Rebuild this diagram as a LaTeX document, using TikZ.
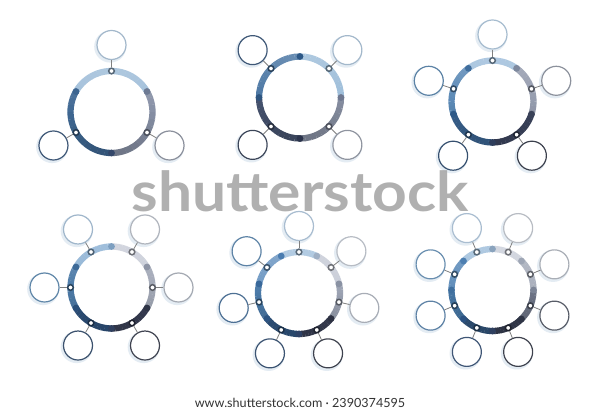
\documentclass[tikz,border=0pt]{standalone}
\usepackage{fontspec}
\newfontfamily\wmfont{Lato}
\usetikzlibrary{calc}
\definecolor{shadowc}{HTML}{E4ECF3}
\tikzset{
  ringseg/.style={line width=6.3pt},
  darkdot/.style={circle, inner sep=0pt, minimum size=6.8pt},
  whitedot/.style={circle, fill=white, inner sep=0pt, minimum size=5.6pt, line width=1.5pt},
  outercirc/.style={circle, inner sep=0pt, minimum size=29pt, line width=1.2pt, fill=white},
  link/.style={draw=black!50, line width=0.8pt},
  wmark/.style={text=black!36, opacity=0.85, font=\wmfont\bfseries\fontsize{55}{55}\selectfont},
  credit/.style={text=black!80, font=\wmfont\fontsize{12.6}{12.6}\selectfont}
}
% #1 name, #2 cx, #3 cy, #4 N, #5 list angle/segcolor/dotcolor/circlecolor
\newcommand{\ringdiag}[5]{%
  \begin{scope}[shift={(#2,#3)}]
    \foreach \a/\sc/\dc/\cc in {#5} {
      \definecolor{segc}{HTML}{\sc}
      \foreach \j in {0,...,11} {
        \pgfmathsetmacro\sa{\a-180/#4+\j*30/#4}
        \pgfmathsetmacro\ea{\sa+30/#4+0.4}
        \pgfmathsetmacro\sv{sin(\sa+15/#4)}
        \pgfmathtruncatemacro\pw{100-16*max(\sv,0)}
        \pgfmathtruncatemacro\pb{100+18*min(\sv,0)}
        \draw[ringseg, segc!\pw!white!\pb!black] (\sa:41) arc[start angle=\sa, end angle=\ea, radius=41];
      }
      \fill[shadowc] ($(\a:67)+(-1.3,-1.6)$) circle[radius=16];
    }
    \foreach \a/\sc/\dc/\cc [count=\i] in {#5} {
      \definecolor{dotc}{HTML}{\dc}
      \node[darkdot, fill=dotc] (k#1\i) at ({\a+180/#4}:41) {};
    }
    \foreach \a/\sc/\dc/\cc [count=\i] in {#5} {
      \definecolor{segc}{HTML}{\sc}
      \definecolor{circc}{HTML}{\cc}
      \node[whitedot, draw=segc!55!black] (w#1\i) at (\a:41) {};
      \node[outercirc, draw=circc] (c#1\i) at (\a:67) {};
      \draw[link] (w#1\i) -- (c#1\i);
    }
  \end{scope}
}
\begin{document}
\begin{tikzpicture}[x=1pt, y=1pt]
\useasboundingbox (0,0) rectangle (600,412);
\fill[white] (0,0) rectangle (600,412);

\ringdiag{a}{111.5}{300}{3}{90/9DBCD8/3D6590/A3B8CB, 210/3F6893/34476A/3F5877, 330/8790A5/6D7A93/8B909C}
\ringdiag{b}{300}{314.5}{4}{45/9DBDD9/2D5886/A3B8CB, 135/4A76A3/2E5580/3F5877, 225/475470/2B344C/3B4558, 315/8890A3/6F7890/8F949F}
\ringdiag{c}{492.5}{310.5}{5}{90/9FBEDB/3F6D9C/A6BCCF, 162/5B89B6/2F5A88/5B82A5, 234/3B6593/2E3E5C/36506F, 306/3D4660/3A4258/3B404D, 18/959CAE/7D889D/8C919C}
\ringdiag{d}{111.5}{124.5}{6}{120/8DB2D4/3D6A98/9FB6CB, 180/4D7BA8/2A4F7A/5F86A8, 240/2F5480/2F3F5E/3B516D, 300/3A4057/2E3446/3F4350, 0/A3A9B7/8D94A5/A4A9B2, 60/C9CDD8/7D9FC0/B0B5BD}
\ringdiag{e}{299}{119}{7}{90/A3C1DC/4A7CB0/A9BDD0, 141.43/6C97C2/39689A/5D83A6, 192.86/4B7AA8/2D5482/4D7094, 244.29/315783/2E4266/3C5472, 295.71/3B4157/2D3142/3E424E, 347.14/9BA2B2/8A92A3/A8ADB6, 38.57/C8CCD7/9FB0C5/B7BCC4}
\ringdiag{f}{492.5}{122}{8}{112.5/A0BFDB/4D7FB1/A9BDD0, 157.5/5F8DBA/3F6F9E/6A8FB0, 202.5/4677A6/2B5282/5E82A5, 247.5/33577F/2F4060/3F5676, 292.5/383F54/2E3445/3E424E, 337.5/6E7587/7C8496/585D68, 22.5/A9AFBC/9EA6B5/A9AEB6, 67.5/CBD0DA/8AA3BD/B8BCC3}

\node[wmark, anchor=base, xscale=1.1] (wm) at (300,200) {shutterstock};
\node[credit, anchor=base] (cr) at (300,4) {www.shutterstock.com · 2390374595};
\end{tikzpicture}
\end{document}
